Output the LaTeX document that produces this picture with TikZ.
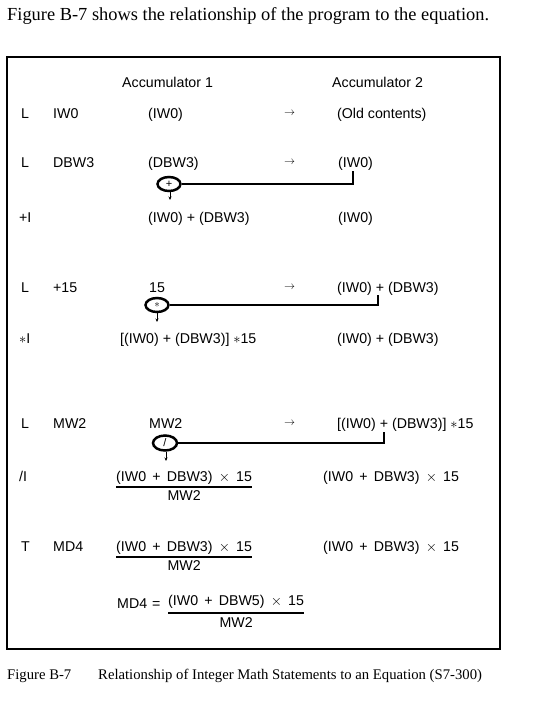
\documentclass[tikz,border=0pt]{standalone}
\usepackage{fontspec}
\setmainfont{Liberation Serif}
\newfontfamily\arialf{Liberation Sans}
\newcommand{\opgap}{\hspace{6.2pt}}
\usetikzlibrary{shapes.geometric,arrows.meta,calc}
\begin{document}
\begin{tikzpicture}[x=1pt,y=-1pt,
  txt/.style={font=\arialf\fontsize{14.2}{16}\selectfont, inner sep=0pt, anchor=base west},
  capbig/.style={font=\fontsize{18.4}{20}\selectfont, inner sep=0pt, anchor=base west},
  capsmall/.style={font=\fontsize{14.7}{17}\selectfont, inner sep=0pt, anchor=base west},
  arr/.style={font=\fontsize{11}{12}\selectfont, inner sep=0pt, anchor=west},
  opcirc/.style={ellipse, draw, line width=2.5pt, minimum width=23pt, minimum height=14pt, inner sep=0pt, font=\arialf\fontsize{11}{11}\selectfont},
  conn/.style={line width=2.5pt},
  dnarrow/.style={-{Stealth[length=3.5pt,width=3pt]}, line width=0.7pt},
  fracbar/.style={line width=1.2pt},
  frame/.style={line width=1.3pt}]
\useasboundingbox (0,0) rectangle (542,721);

% captions
\node[capbig] (topcap) at (7,20) {Figure B-7 shows the relationship of the program to the equation.};
\node[capsmall] (figno) at (7,679) {Figure B-7};
\node[capsmall] (figtitle) at (98,679) {Relationship of Integer Math Statements to an Equation (S7-300)};

% frame
\draw[frame] (7,57) rectangle (500,649);

% header
\node[txt] (h1) at (122,87) {Accumulator 1};
\node[txt] (h2) at (332,87) {Accumulator 2};

% row 1
\node[txt] (r1a) at (21,118) {L};
\node[txt] (r1b) at (53,118) {IW0};
\node[txt] (r1c) at (148,118) {(IW0)};
\node[arr] (r1d) at (284,113) {$\rightarrow$};
\node[txt] (r1e) at (337,118) {(Old contents)};

% row 2
\node[txt] (r2a) at (21,167) {L};
\node[txt] (r2b) at (53,167) {DBW3};
\node[txt] (r2c) at (148,167) {(DBW3)};
\node[arr] (r2d) at (284,162) {$\rightarrow$};
\node[txt] (r2e) at (338,167) {(IW0)};
\node[opcirc] (op1) at (169,184) {+};
\coordinate (t1) at (353,171);
\coordinate (d1) at (170,200);
\draw[conn] (op1.east) -- (op1.east -| t1) -- (t1);
\draw[dnarrow] (op1.south -| d1) -- (d1);

% row 3
\node[txt] (r3a) at (19,222) {+I};
\node[txt] (r3c) at (148,222) {(IW0) + (DBW3)};
\node[txt] (r3e) at (338,222) {(IW0)};

% row 4
\node[txt] (r4a) at (21,292) {L};
\node[txt] (r4b) at (53,292) {+15};
\node[txt] (r4c) at (149,292) {15};
\node[arr] (r4d) at (284,287) {$\rightarrow$};
\node[txt] (r4e) at (337,292) {(IW0) + (DBW3)};
\node[opcirc] (op2) at (157,305) {$\ast$};
\coordinate (t2) at (378,295);
\coordinate (d2) at (157,322);
\draw[conn] (op2.east) -- (op2.east -| t2) -- (t2);
\draw[dnarrow] (op2.south -| d2) -- (d2);

% row 5
\node[txt] (r5a) at (19,343) {$\ast$I};
\node[txt] (r5c) at (120,343) {[(IW0) + (DBW3)] $\ast$15};
\node[txt] (r5e) at (337,343) {(IW0) + (DBW3)};

% row 6
\node[txt] (r6a) at (21,428) {L};
\node[txt] (r6b) at (53,428) {MW2};
\node[txt] (r6c) at (149,428) {MW2};
\node[arr] (r6d) at (284,423) {$\rightarrow$};
\node[txt] (r6e) at (337,428) {[(IW0) + (DBW3)] $\ast$15};
\node[opcirc, minimum width=24pt, minimum height=15pt] (op3) at (165,443) {/};
\coordinate (t3) at (384,432);
\coordinate (d3) at (166,461);
\draw[conn] (op3.east) -- (op3.east -| t3) -- (t3);
\draw[dnarrow] (op3.south -| d3) -- (d3);

% row 7
\node[txt] (r7a) at (19,481) {/I};
\node[txt] (r7n) at (116,481) {(IW0\opgap+\opgap DBW3)\opgap$\times$\opgap 15};
\draw[fracbar] ($(r7n.base west)+(0,6)$) -- ($(r7n.base east)+(0,6)$);
\node[txt, anchor=base] (r7d) at ($(r7n.base west)!0.5!(r7n.base east)+(0,19)$) {MW2};
\node[txt] (r7e) at (323,481) {(IW0\opgap+\opgap DBW3)\opgap$\times$\opgap 15};

% row 8
\node[txt] (r8a) at (21,551) {T};
\node[txt] (r8b) at (53,551) {MD4};
\node[txt] (r8n) at (116,551) {(IW0\opgap+\opgap DBW3)\opgap$\times$\opgap 15};
\draw[fracbar] ($(r8n.base west)+(0,6)$) -- ($(r8n.base east)+(0,6)$);
\node[txt, anchor=base] (r8d) at ($(r8n.base west)!0.5!(r8n.base east)+(0,19)$) {MW2};
\node[txt] (r8e) at (323,551) {(IW0\opgap+\opgap DBW3)\opgap$\times$\opgap 15};

% final equation
\node[txt] (fa) at (117,608) {MD4};
\node[txt] (feq) at (152,608) {=};
\node[txt] (fn) at (168,605) {(IW0\opgap+\opgap DBW5)\opgap$\times$\opgap 15};
\draw[fracbar] ($(fn.base west)+(0,8)$) -- ($(fn.base east)+(0,8)$);
\node[txt, anchor=base] (fd) at ($(fn.base west)!0.5!(fn.base east)+(0,22)$) {MW2};
\end{tikzpicture}
\end{document}
